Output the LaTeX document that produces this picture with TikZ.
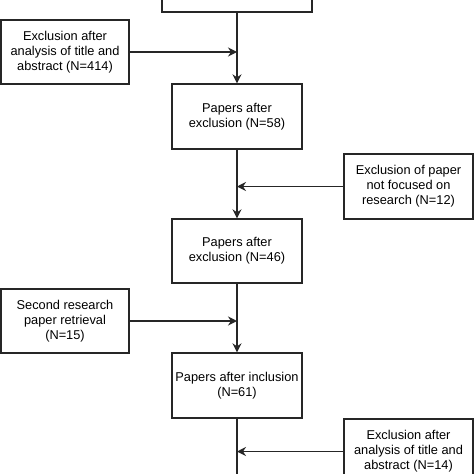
\documentclass[tikz,border=0pt]{standalone}
\usepackage{fontspec}
\setmainfont{Liberation Sans}
\usetikzlibrary{arrows.meta}
\tikzset{
  box/.style={draw=black!85,line width=1.4pt,align=center,inner sep=0pt,
    minimum width=130pt,minimum height=65pt,
    font=\fontsize{12.8}{15}\selectfont},
  flow/.style={draw=black!85,line width=1.4pt,-{Stealth[length=9pt,width=9pt,inset=3pt]}},
  link/.style={draw=black!85,line width=1.4pt}
}
\begin{document}
\begin{tikzpicture}[x=1pt,y=-1pt]
\useasboundingbox[fill=white] (0,0) rectangle (474,474);
\clip (0,0) rectangle (474,474);

\node[box,minimum width=150pt,minimum height=44pt] (top) at (237,-10) {};
\node[box,minimum width=128pt,minimum height=64pt] (excl1) at (65,52) {Exclusion after\\analysis of title and\\abstract (N=414)};
\node[box] (pap1) at (237,116.5) {Papers after\\exclusion (N=58)};
\node[box,minimum width=129pt] (excl2) at (408.5,186.5) {Exclusion of paper\\not focused on\\research (N=12)};
\node[box,minimum height=64pt] (pap2) at (237,251) {Papers after\\exclusion (N=46)};
\node[box,minimum width=128pt,minimum height=64pt] (second) at (65,321) {Second research\\paper retrieval\\(N=15)};
\node[box] (pap3) at (237,385.5) {Papers after inclusion\\(N=61)};
\node[box,minimum width=129pt] (excl3) at (408.5,451.5) {Exclusion after\\analysis of title and\\abstract (N=14)};

\coordinate (j1) at (237,52);
\coordinate (j2) at (237,186.5);
\coordinate (j3) at (237,321);
\coordinate (j4) at (237,451.5);
\coordinate (out) at (237,480);

\draw[flow] (top.south) -- (pap1.north);
\draw[flow] (excl1.east) -- (j1);
\draw[flow] (pap1.south) -- (pap2.north);
\draw[flow] (excl2.west) -- (j2);
\draw[flow] (pap2.south) -- (pap3.north);
\draw[flow] (second.east) -- (j3);
\draw[link] (pap3.south) -- (out);
\draw[flow] (excl3.west) -- (j4);
\end{tikzpicture}
\end{document}
